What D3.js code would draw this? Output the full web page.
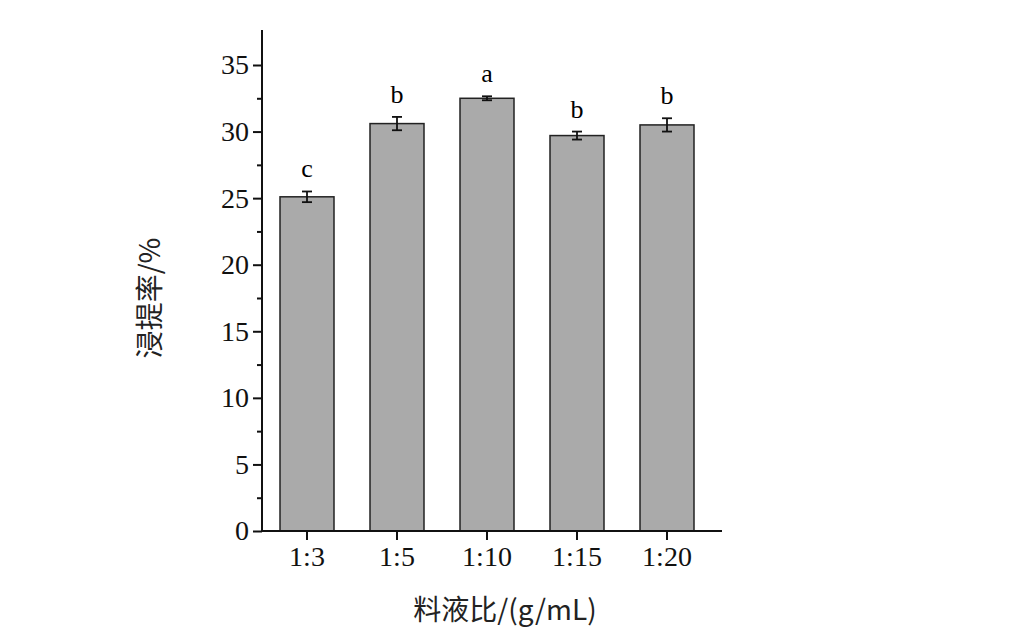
<!DOCTYPE html>
<html><head><meta charset="utf-8">
<script src="https://cdn.jsdelivr.net/npm/d3@7"></script>
<style>body{margin:0;background:#fff}</style>
</head><body>
<svg id="c" width="1016" height="638"></svg>
<script>
var categories = ["1:3", "1:5", "1:10", "1:15", "1:20"];
var values = [25.1, 30.6, 32.5, 29.7, 30.5];
var errors = [0.4, 0.5, 0.15, 0.3, 0.5];
var letters = ["c", "b", "a", "b", "b"];
var yTicks = [0, 5, 10, 15, 20, 25, 30, 35];

var svg = d3.select("#c");
var serif = "'Liberation Serif','DejaVu Serif',serif";
var x = d3.scaleBand().domain(categories).range([262, 712]).paddingInner(0.4).paddingOuter(0.2);
var y = d3.scaleLinear().domain([0, 35]).range([531, 65]);

// bars
svg.selectAll(".bar").data(values).enter().append("rect")
  .attr("x", function(d, i){ return x(categories[i]); })
  .attr("y", function(d){ return y(d); })
  .attr("width", x.bandwidth())
  .attr("height", function(d){ return y(0) - y(d); })
  .attr("fill", "#aaaaaa").attr("stroke", "#222").attr("stroke-width", 1.5);

// error bars
var eb = svg.selectAll(".eb").data(values).enter().append("g")
  .attr("stroke", "#111").attr("stroke-width", 1.8);
eb.append("line")
  .attr("x1", function(d, i){ return x(categories[i]) + x.bandwidth()/2; })
  .attr("x2", function(d, i){ return x(categories[i]) + x.bandwidth()/2; })
  .attr("y1", function(d, i){ return y(d + errors[i]); })
  .attr("y2", function(d, i){ return y(d - errors[i]); });
[1, -1].forEach(function(s){
  eb.append("line")
    .attr("x1", function(d, i){ return x(categories[i]) + x.bandwidth()/2 - 5; })
    .attr("x2", function(d, i){ return x(categories[i]) + x.bandwidth()/2 + 5; })
    .attr("y1", function(d, i){ return y(d + s*errors[i]); })
    .attr("y2", function(d, i){ return y(d + s*errors[i]); });
});

// letters
svg.selectAll(".lt").data(values).enter().append("text")
  .attr("x", function(d, i){ return x(categories[i]) + x.bandwidth()/2; })
  .attr("y", function(d, i){ return y(d + errors[i]) - 14; })
  .attr("text-anchor", "middle").attr("font-family", serif).attr("font-size", 26)
  .text(function(d, i){ return letters[i]; });

// y axis
var yAxis = svg.append("g").attr("transform", "translate(262,0)")
  .call(d3.axisLeft(y).tickValues(yTicks).tickSize(9).tickPadding(4));
svg.append("g").attr("transform", "translate(262,0)")
  .call(d3.axisLeft(y).tickValues(d3.range(2.5, 35, 5)).tickSize(5).tickFormat(""))
  .select(".domain").remove();
yAxis.select(".domain").attr("d", "M0,30V531");
// x axis
var xAxis = svg.append("g").attr("transform", "translate(0,531)")
  .call(d3.axisBottom(x).tickSize(9).tickPadding(6));
xAxis.select(".domain").attr("d", "M262,0H722");
svg.selectAll(".tick line, .domain").attr("stroke", "#111").attr("stroke-width", 2);
svg.selectAll(".tick text").attr("font-family", serif).attr("font-size", 28).attr("fill", "#111");

// axis titles
svg.append("text").attr("x", 505).attr("y", 620).attr("text-anchor", "middle")
  .attr("font-family", "'Noto Sans CJK SC',serif").attr("font-size", 28).attr("fill", "#222")
  .text("料液比/(g/mL)");
svg.append("text").attr("transform", "translate(160,298) rotate(-90)").attr("text-anchor", "middle")
  .attr("font-family", "'Noto Sans CJK SC',serif").attr("font-size", 28).attr("fill", "#222")
  .text("浸提率/%");
</script>
</body></html>
